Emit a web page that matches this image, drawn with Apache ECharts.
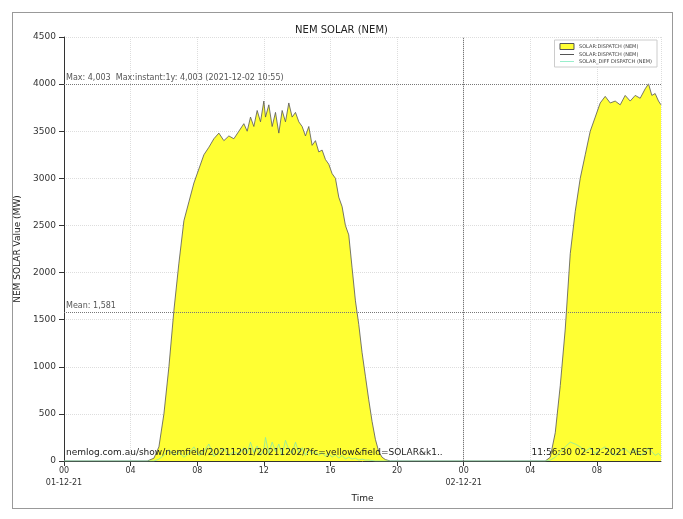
<!DOCTYPE html><html><head><meta charset="utf-8"><script src="https://cdn.jsdelivr.net/npm/echarts@6/dist/echarts.min.js"></script>
<style>body{margin:0;background:#fff}#c{width:683px;height:519px}#f{position:absolute;left:12px;top:12px;width:659px;height:495px;border:1px solid #999;pointer-events:none}</style></head><body><div id="c"></div><div id="f"></div>
<script>
const hours=[0,5,5.4,5.7,6,6.3,6.6,6.9,7.2,7.5,7.8,8.1,8.4,8.7,9,9.3,9.6,9.9,10.2,10.5,10.8,11,11.2,11.4,11.6,11.8,12,12.1,12.3,12.5,12.7,12.9,13.1,13.3,13.5,13.7,13.9,14.1,14.3,14.5,14.7,14.9,15.1,15.3,15.5,15.7,15.9,16.1,16.3,16.5,16.7,16.9,17.1,17.3,17.5,17.7,17.9,18.1,18.3,18.5,18.7,18.9,19.1,19.3,19.6,20,24,28,28.9,29.2,29.5,29.8,30.1,30.4,30.7,31,31.3,31.6,31.9,32.2,32.5,32.8,33.1,33.4,33.7,34,34.3,34.6,34.9,35.1,35.3,35.5,35.7,35.85];
const solar=[0,0,30,150,500,1000,1600,2100,2550,2750,2950,3100,3250,3330,3420,3480,3400,3450,3420,3500,3580,3500,3650,3550,3720,3600,3820,3650,3780,3550,3700,3480,3720,3600,3800,3650,3700,3600,3550,3450,3550,3350,3400,3280,3300,3200,3150,3050,3000,2800,2700,2500,2400,2050,1700,1450,1150,900,650,420,230,100,40,15,0,0,0,0,0,40,300,800,1400,2200,2650,3000,3250,3500,3650,3800,3870,3800,3820,3780,3880,3820,3880,3850,3950,4003,3880,3900,3820,3780,3750];
const diff=[0,0,0,20,60,120,60,100,40,80,150,60,100,180,50,90,130,60,100,70,140,80,200,90,160,60,120,250,80,200,100,180,60,220,120,80,200,90,140,60,120,80,100,60,90,50,80,40,70,30,60,20,40,20,30,10,20,10,10,5,0,0,0,0,0,0,0,0,0,10,40,100,150,200,180,150,100,140,80,120,150,90,60,110,130,80,120,60,90,140,100,60,80,50,40];
const dates={0:'01-12-21',24:'02-12-21'};
const s1=hours.map((h,i)=>[h,solar[i]]), s3=hours.map((h,i)=>[h,diff[i]]);
const ch=echarts.init(document.getElementById('c'));
const ff='DejaVu Sans';
ch.setOption({animation:false,textStyle:{fontFamily:ff},
title:{text:'NEM SOLAR (NEM)',left:'center',top:20,textStyle:{fontSize:10,fontWeight:'normal',color:'#222'}},
grid:{left:64,right:22,top:37,bottom:58},
legend:{top:40,right:26,orient:'vertical',itemWidth:14,itemHeight:6,itemGap:2,textStyle:{fontSize:5,color:'#444'},backgroundColor:'#fff',borderColor:'#ccc',borderWidth:1,padding:[3,5],
 data:[{name:'SOLAR:DISPATCH (NEM)',icon:'rect',itemStyle:{color:'#ffff33',borderColor:'#555',borderWidth:1}},{name:'SOLAR:DISPATCH (NEM) ',icon:'path://M0,4L14,4L14,5L0,5Z',itemStyle:{color:'#555'}},{name:'SOLAR_DIFF DISPATCH (NEM)',icon:'path://M0,4L14,4L14,5L0,5Z',itemStyle:{color:'#99eecc'}}]},
xAxis:{type:'value',min:0,max:35.85,interval:4,name:'Time',nameLocation:'middle',nameGap:28,nameTextStyle:{fontSize:9,color:'#222'},
 axisLine:{lineStyle:{color:'#333'}},axisTick:{show:true},
 axisLabel:{fontSize:8,color:'#333',showMaxLabel:false,margin:4,formatter:v=>{const h=v%24;const s=String(h).padStart(2,'0');return dates[v]?s+'\n'+dates[v]:s},lineHeight:12,verticalAlign:'top'},
 splitLine:{lineStyle:{color:'#ddd',type:'dotted'}}},
yAxis:{type:'value',min:0,max:4500,interval:500,name:'NEM SOLAR Value (MW)',nameLocation:'middle',nameGap:40,nameTextStyle:{fontSize:9,color:'#222'},
 axisLine:{show:true,lineStyle:{color:'#333'}},axisTick:{show:true},axisLabel:{fontSize:9,color:'#333',formatter:v=>String(v)},splitLine:{lineStyle:{color:'#ddd',type:'dotted'}}},
series:[
{name:'SOLAR:DISPATCH (NEM)',type:'line',data:s1,symbol:'none',lineStyle:{width:0.8,color:'#555'},itemStyle:{color:'#ffff33'},areaStyle:{color:'#ffff33',opacity:1},z:2,
 markLine:{silent:true,symbol:'none',lineStyle:{color:'#777',type:'dotted',width:1},data:[{xAxis:24,label:{show:false}},
 {yAxis:4003,label:{position:'insideStartTop',formatter:'Max: 4,003  Max:instant:1y: 4,003 (2021-12-02 10:55)',fontSize:8,color:'#555',distance:2}},
 {yAxis:1581,label:{position:'insideStartTop',formatter:'Mean: 1,581',fontSize:8,color:'#555',distance:2}}]}},
{name:'SOLAR:DISPATCH (NEM) ',type:'line',data:[],symbol:'none',itemStyle:{color:'#555'}},
{name:'SOLAR_DIFF DISPATCH (NEM)',type:'line',data:s3,symbol:'none',lineStyle:{width:0.8,color:'#88e8aa'},itemStyle:{color:'#99eecc'},z:3}],
graphic:[{type:'text',z:100,left:66,top:448,style:{text:'nemlog.com.au/show/nemfield/20211201/20211202/?fc=yellow&field=SOLAR&k1..',fontSize:9,fill:'#222',fontFamily:ff}},
{type:'text',z:100,right:30,top:448,style:{text:'11:56:30 02-12-2021 AEST',fontSize:9,fill:'#222',fontFamily:ff}}]
});
</script></body></html>
